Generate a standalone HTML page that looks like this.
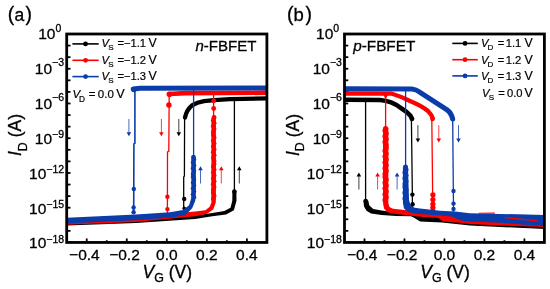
<!DOCTYPE html>
<html><head><meta charset="utf-8"><title>FBFET transfer curves</title>
<style>html,body{margin:0;padding:0;background:#fff;}svg{display:block;}text{stroke:#000;stroke-width:0.3px;}text.lg{stroke-width:0.2px;}</style>
</head><body>
<svg width="550" height="289" viewBox="0 0 550 289" font-family="'Liberation Sans', Arial, sans-serif">
<rect width="550" height="289" fill="#fff"/>
<line x1="66.70" y1="45.58" x2="70.50" y2="45.58" stroke="#000" stroke-width="1.8"/>
<line x1="66.70" y1="57.16" x2="70.50" y2="57.16" stroke="#000" stroke-width="1.8"/>
<line x1="66.70" y1="68.74" x2="70.50" y2="68.74" stroke="#000" stroke-width="1.8"/>
<line x1="66.70" y1="80.32" x2="70.50" y2="80.32" stroke="#000" stroke-width="1.8"/>
<line x1="66.70" y1="91.90" x2="70.50" y2="91.90" stroke="#000" stroke-width="1.8"/>
<line x1="66.70" y1="103.48" x2="70.50" y2="103.48" stroke="#000" stroke-width="1.8"/>
<line x1="66.70" y1="115.06" x2="70.50" y2="115.06" stroke="#000" stroke-width="1.8"/>
<line x1="66.70" y1="126.64" x2="70.50" y2="126.64" stroke="#000" stroke-width="1.8"/>
<line x1="66.70" y1="138.22" x2="70.50" y2="138.22" stroke="#000" stroke-width="1.8"/>
<line x1="66.70" y1="149.80" x2="70.50" y2="149.80" stroke="#000" stroke-width="1.8"/>
<line x1="66.70" y1="161.38" x2="70.50" y2="161.38" stroke="#000" stroke-width="1.8"/>
<line x1="66.70" y1="172.96" x2="70.50" y2="172.96" stroke="#000" stroke-width="1.8"/>
<line x1="66.70" y1="184.54" x2="70.50" y2="184.54" stroke="#000" stroke-width="1.8"/>
<line x1="66.70" y1="196.12" x2="70.50" y2="196.12" stroke="#000" stroke-width="1.8"/>
<line x1="66.70" y1="207.70" x2="70.50" y2="207.70" stroke="#000" stroke-width="1.8"/>
<line x1="66.70" y1="219.28" x2="70.50" y2="219.28" stroke="#000" stroke-width="1.8"/>
<line x1="66.70" y1="230.86" x2="70.50" y2="230.86" stroke="#000" stroke-width="1.8"/>
<line x1="86.72" y1="242.44" x2="86.72" y2="238.44" stroke="#000" stroke-width="1.8"/>
<line x1="106.74" y1="242.44" x2="106.74" y2="240.24" stroke="#000" stroke-width="1.8"/>
<line x1="126.76" y1="242.44" x2="126.76" y2="238.44" stroke="#000" stroke-width="1.8"/>
<line x1="146.78" y1="242.44" x2="146.78" y2="240.24" stroke="#000" stroke-width="1.8"/>
<line x1="166.80" y1="242.44" x2="166.80" y2="238.44" stroke="#000" stroke-width="1.8"/>
<line x1="186.82" y1="242.44" x2="186.82" y2="240.24" stroke="#000" stroke-width="1.8"/>
<line x1="206.84" y1="242.44" x2="206.84" y2="238.44" stroke="#000" stroke-width="1.8"/>
<line x1="226.86" y1="242.44" x2="226.86" y2="240.24" stroke="#000" stroke-width="1.8"/>
<line x1="246.88" y1="242.44" x2="246.88" y2="238.44" stroke="#000" stroke-width="1.8"/>
<clipPath id="ca"><rect x="66.7" y="34" width="200.2" height="208.5"/></clipPath><g clip-path="url(#ca)">
<polygon points="67.00,221.20 136.00,219.20 195.00,215.50 212.30,212.90 224.40,211.10 230.50,207.70 232.30,200.80 232.40,191.50 236.40,191.50 236.50,200.80 233.90,210.30 226.10,214.60 212.30,216.30 195.00,218.90 136.00,222.90 67.00,225.60" fill="#000000"/>
<polyline points="234.40,191.50 234.40,99.50" fill="none" stroke="#000000" stroke-width="1.3"/>
<path d="M185,117.5 Q186.5,110 192,105.3 Q197,102.4 204,101.2 L214,100.1 L230,99.2 L268,98.4" fill="none" stroke="#000000" stroke-width="4.3" stroke-linecap="round" stroke-linejoin="round"/>
<polyline points="184.60,117.30 184.40,176.00 183.70,177.00 183.70,218.00" fill="none" stroke="#000000" stroke-width="1.3"/>
<circle cx="184.20" cy="199.00" r="2.2" fill="#000000"/>
<circle cx="184.20" cy="208.30" r="1.8" fill="#000000"/>
<circle cx="234.40" cy="191.50" r="2.3" fill="#000000"/>
<polygon points="67.00,219.50 136.00,216.50 195.00,211.60 205.40,210.30 209.70,206.80 211.40,202.50 211.60,118.00 215.80,118.00 215.80,202.50 213.20,209.40 207.10,213.70 195.00,216.30 136.00,221.90 67.00,224.80" fill="#ff0000"/>
<polyline points="213.60,117.00 213.60,94.00" fill="none" stroke="#ff0000" stroke-width="1.3"/>
<circle cx="213.70" cy="100.80" r="2.4" fill="#ff0000"/>
<circle cx="213.70" cy="108.50" r="2.4" fill="#ff0000"/>
<circle cx="214.05" cy="117.50" r="2.45" fill="#ff0000"/>
<circle cx="213.35" cy="120.40" r="2.45" fill="#ff0000"/>
<circle cx="214.05" cy="123.30" r="2.45" fill="#ff0000"/>
<circle cx="213.35" cy="126.20" r="2.45" fill="#ff0000"/>
<circle cx="214.05" cy="129.10" r="2.45" fill="#ff0000"/>
<circle cx="213.35" cy="132.00" r="2.45" fill="#ff0000"/>
<circle cx="213.35" cy="134.90" r="2.45" fill="#ff0000"/>
<circle cx="214.05" cy="137.80" r="2.45" fill="#ff0000"/>
<circle cx="213.35" cy="140.70" r="2.45" fill="#ff0000"/>
<circle cx="214.05" cy="143.60" r="2.45" fill="#ff0000"/>
<circle cx="213.35" cy="146.50" r="2.45" fill="#ff0000"/>
<circle cx="214.05" cy="149.40" r="2.45" fill="#ff0000"/>
<circle cx="213.35" cy="152.30" r="2.45" fill="#ff0000"/>
<circle cx="214.05" cy="155.20" r="2.45" fill="#ff0000"/>
<circle cx="213.35" cy="158.10" r="2.45" fill="#ff0000"/>
<circle cx="214.05" cy="161.00" r="2.45" fill="#ff0000"/>
<circle cx="214.05" cy="163.90" r="2.45" fill="#ff0000"/>
<circle cx="213.35" cy="166.80" r="2.45" fill="#ff0000"/>
<circle cx="214.05" cy="169.70" r="2.45" fill="#ff0000"/>
<circle cx="213.35" cy="172.60" r="2.45" fill="#ff0000"/>
<circle cx="214.05" cy="175.50" r="2.45" fill="#ff0000"/>
<circle cx="213.35" cy="178.40" r="2.45" fill="#ff0000"/>
<circle cx="214.05" cy="181.30" r="2.45" fill="#ff0000"/>
<circle cx="213.35" cy="184.20" r="2.45" fill="#ff0000"/>
<circle cx="214.05" cy="187.10" r="2.45" fill="#ff0000"/>
<circle cx="213.35" cy="190.00" r="2.45" fill="#ff0000"/>
<circle cx="213.35" cy="192.90" r="2.45" fill="#ff0000"/>
<circle cx="214.05" cy="195.80" r="2.45" fill="#ff0000"/>
<circle cx="213.35" cy="198.70" r="2.45" fill="#ff0000"/>
<polyline points="169.20,94.00 185.00,93.20 268.00,92.70" fill="none" stroke="#ff0000" stroke-width="4.7" stroke-linecap="round" stroke-linejoin="round"/>
<circle cx="169.40" cy="94.30" r="2.8" fill="#ff0000"/>
<polyline points="169.20,94.30 168.80,151.30 167.50,152.00 167.40,216.00" fill="none" stroke="#ff0000" stroke-width="1.3"/>
<circle cx="168.90" cy="105.00" r="2.7" fill="#ff0000"/>
<circle cx="167.40" cy="196.70" r="2.2" fill="#ff0000"/>
<circle cx="167.40" cy="209.10" r="2.2" fill="#ff0000"/>
<polygon points="67.00,217.80 136.00,214.60 170.00,212.20 182.90,209.90 189.10,205.20 191.40,197.40 191.60,185.00 191.40,156.50 195.60,156.50 196.00,185.00 195.30,200.60 192.20,208.30 185.20,215.30 170.00,217.70 136.00,220.20 67.00,223.50" fill="#0a3caa"/>
<circle cx="193.50" cy="157.00" r="2.3" fill="#0a3caa"/>
<circle cx="193.85" cy="159.50" r="2.4" fill="#0a3caa"/>
<circle cx="193.15" cy="162.40" r="2.4" fill="#0a3caa"/>
<circle cx="193.85" cy="165.30" r="2.4" fill="#0a3caa"/>
<circle cx="193.15" cy="168.20" r="2.4" fill="#0a3caa"/>
<circle cx="193.85" cy="171.10" r="2.4" fill="#0a3caa"/>
<circle cx="193.15" cy="174.00" r="2.4" fill="#0a3caa"/>
<circle cx="193.15" cy="176.90" r="2.4" fill="#0a3caa"/>
<circle cx="193.85" cy="179.80" r="2.4" fill="#0a3caa"/>
<circle cx="193.15" cy="182.70" r="2.4" fill="#0a3caa"/>
<circle cx="193.85" cy="185.60" r="2.4" fill="#0a3caa"/>
<circle cx="193.15" cy="188.50" r="2.4" fill="#0a3caa"/>
<circle cx="193.85" cy="191.40" r="2.4" fill="#0a3caa"/>
<circle cx="193.15" cy="194.30" r="2.4" fill="#0a3caa"/>
<circle cx="193.85" cy="197.20" r="2.4" fill="#0a3caa"/>
<polyline points="193.60,156.50 193.60,88.10" fill="none" stroke="#0a3caa" stroke-width="1.3"/>
<polyline points="133.20,89.00 140.00,88.30 268.00,88.10" fill="none" stroke="#0a3caa" stroke-width="5.0" stroke-linecap="round" stroke-linejoin="round"/>
<polyline points="134.90,89.00 134.90,143.30 133.90,143.90 133.70,214.00" fill="none" stroke="#0a3caa" stroke-width="1.6"/>
<circle cx="133.90" cy="89.60" r="2.7" fill="#0a3caa"/>
<circle cx="133.80" cy="189.00" r="2.2" fill="#0a3caa"/>
<circle cx="133.60" cy="207.50" r="2.2" fill="#0a3caa"/>
<circle cx="133.60" cy="212.20" r="2.2" fill="#0a3caa"/>
<line x1="128.90" y1="119.00" x2="128.90" y2="132.70" stroke="#0a3caa" stroke-width="1" opacity="0.75"/>
<polygon points="126.60,132.20 131.20,132.20 128.90,136.20" fill="#0a3caa"/>
<line x1="161.40" y1="119.00" x2="161.40" y2="132.70" stroke="#ff0000" stroke-width="1" opacity="0.75"/>
<polygon points="159.10,132.20 163.70,132.20 161.40,136.20" fill="#ff0000"/>
<line x1="178.80" y1="119.00" x2="178.80" y2="132.70" stroke="#000000" stroke-width="1" opacity="0.75"/>
<polygon points="176.50,132.20 181.10,132.20 178.80,136.20" fill="#000000"/>
<line x1="200.50" y1="183.50" x2="200.50" y2="169.80" stroke="#0a3caa" stroke-width="1" opacity="0.75"/>
<polygon points="198.20,170.30 202.80,170.30 200.50,166.30" fill="#0a3caa"/>
<line x1="221.30" y1="183.50" x2="221.30" y2="169.80" stroke="#ff0000" stroke-width="1" opacity="0.75"/>
<polygon points="219.00,170.30 223.60,170.30 221.30,166.30" fill="#ff0000"/>
<line x1="239.30" y1="183.50" x2="239.30" y2="169.80" stroke="#000000" stroke-width="1" opacity="0.75"/>
<polygon points="237.00,170.30 241.60,170.30 239.30,166.30" fill="#000000"/>
</g>
<line x1="344.50" y1="45.58" x2="348.30" y2="45.58" stroke="#000" stroke-width="1.8"/>
<line x1="344.50" y1="57.16" x2="348.30" y2="57.16" stroke="#000" stroke-width="1.8"/>
<line x1="344.50" y1="68.74" x2="348.30" y2="68.74" stroke="#000" stroke-width="1.8"/>
<line x1="344.50" y1="80.32" x2="348.30" y2="80.32" stroke="#000" stroke-width="1.8"/>
<line x1="344.50" y1="91.90" x2="348.30" y2="91.90" stroke="#000" stroke-width="1.8"/>
<line x1="344.50" y1="103.48" x2="348.30" y2="103.48" stroke="#000" stroke-width="1.8"/>
<line x1="344.50" y1="115.06" x2="348.30" y2="115.06" stroke="#000" stroke-width="1.8"/>
<line x1="344.50" y1="126.64" x2="348.30" y2="126.64" stroke="#000" stroke-width="1.8"/>
<line x1="344.50" y1="138.22" x2="348.30" y2="138.22" stroke="#000" stroke-width="1.8"/>
<line x1="344.50" y1="149.80" x2="348.30" y2="149.80" stroke="#000" stroke-width="1.8"/>
<line x1="344.50" y1="161.38" x2="348.30" y2="161.38" stroke="#000" stroke-width="1.8"/>
<line x1="344.50" y1="172.96" x2="348.30" y2="172.96" stroke="#000" stroke-width="1.8"/>
<line x1="344.50" y1="184.54" x2="348.30" y2="184.54" stroke="#000" stroke-width="1.8"/>
<line x1="344.50" y1="196.12" x2="348.30" y2="196.12" stroke="#000" stroke-width="1.8"/>
<line x1="344.50" y1="207.70" x2="348.30" y2="207.70" stroke="#000" stroke-width="1.8"/>
<line x1="344.50" y1="219.28" x2="348.30" y2="219.28" stroke="#000" stroke-width="1.8"/>
<line x1="344.50" y1="230.86" x2="348.30" y2="230.86" stroke="#000" stroke-width="1.8"/>
<line x1="364.49" y1="242.44" x2="364.49" y2="238.44" stroke="#000" stroke-width="1.8"/>
<line x1="384.48" y1="242.44" x2="384.48" y2="240.24" stroke="#000" stroke-width="1.8"/>
<line x1="404.47" y1="242.44" x2="404.47" y2="238.44" stroke="#000" stroke-width="1.8"/>
<line x1="424.46" y1="242.44" x2="424.46" y2="240.24" stroke="#000" stroke-width="1.8"/>
<line x1="444.45" y1="242.44" x2="444.45" y2="238.44" stroke="#000" stroke-width="1.8"/>
<line x1="464.44" y1="242.44" x2="464.44" y2="240.24" stroke="#000" stroke-width="1.8"/>
<line x1="484.43" y1="242.44" x2="484.43" y2="238.44" stroke="#000" stroke-width="1.8"/>
<line x1="504.42" y1="242.44" x2="504.42" y2="240.24" stroke="#000" stroke-width="1.8"/>
<line x1="524.41" y1="242.44" x2="524.41" y2="238.44" stroke="#000" stroke-width="1.8"/>
<clipPath id="cb"><rect x="344.5" y="34" width="199.9" height="208.5"/></clipPath><g clip-path="url(#cb)">
<path d="M345.5,99.7 L380,99.9 Q392,100.9 400.5,107.7 Q407,111.6 410.5,115.8 L412,119" fill="none" stroke="#000000" stroke-width="4.5" stroke-linecap="round" stroke-linejoin="round"/>
<polyline points="411.40,119.00 412.30,190.00 412.50,214.00" fill="none" stroke="#000000" stroke-width="1.3"/>
<circle cx="412.00" cy="118.60" r="2.2" fill="#000000"/>
<circle cx="412.40" cy="194.60" r="2.2" fill="#000000"/>
<circle cx="412.60" cy="204.20" r="2.2" fill="#000000"/>
<polyline points="365.60,101.00 365.60,200.60" fill="none" stroke="#000000" stroke-width="1.3"/>
<polygon points="363.40,200.60 364.00,206.40 366.50,210.80 371.00,213.60 381.50,215.00 396.00,216.00 411.00,216.30 414.50,217.90 420.00,221.60 442.00,222.60 470.00,225.40 500.00,227.00 545.00,229.00 545.00,222.50 470.00,219.50 442.00,217.50 424.00,216.50 414.00,215.00 396.00,212.40 381.50,210.50 373.20,209.00 369.40,205.60 368.20,200.60" fill="#000000"/>
<circle cx="365.70" cy="201.00" r="2.3" fill="#000000"/>
<polygon points="383.00,128.00 383.00,203.00 384.00,208.50 387.00,212.00 392.00,213.50 405.00,215.00 415.00,216.30 438.00,217.80 443.00,221.50 460.00,222.80 470.00,224.00 500.00,225.40 545.00,227.00 545.00,219.50 455.00,215.00 433.00,212.60 405.00,210.00 393.00,208.80 389.50,207.00 388.30,203.00 388.30,128.00" fill="#ff0000"/>
<circle cx="385.60" cy="128.50" r="2.6" fill="#ff0000"/>
<circle cx="385.20" cy="130.50" r="2.75" fill="#ff0000"/>
<circle cx="386.00" cy="133.40" r="2.75" fill="#ff0000"/>
<circle cx="385.20" cy="136.30" r="2.75" fill="#ff0000"/>
<circle cx="386.00" cy="139.20" r="2.75" fill="#ff0000"/>
<circle cx="385.20" cy="142.10" r="2.75" fill="#ff0000"/>
<circle cx="386.00" cy="145.00" r="2.75" fill="#ff0000"/>
<circle cx="386.00" cy="147.90" r="2.75" fill="#ff0000"/>
<circle cx="385.20" cy="150.80" r="2.75" fill="#ff0000"/>
<circle cx="386.00" cy="153.70" r="2.75" fill="#ff0000"/>
<circle cx="385.20" cy="156.60" r="2.75" fill="#ff0000"/>
<circle cx="386.00" cy="159.50" r="2.75" fill="#ff0000"/>
<circle cx="385.20" cy="162.40" r="2.75" fill="#ff0000"/>
<circle cx="386.00" cy="165.30" r="2.75" fill="#ff0000"/>
<circle cx="385.20" cy="168.20" r="2.75" fill="#ff0000"/>
<circle cx="386.00" cy="171.10" r="2.75" fill="#ff0000"/>
<circle cx="385.20" cy="174.00" r="2.75" fill="#ff0000"/>
<circle cx="385.20" cy="176.90" r="2.75" fill="#ff0000"/>
<circle cx="386.00" cy="179.80" r="2.75" fill="#ff0000"/>
<circle cx="385.20" cy="182.70" r="2.75" fill="#ff0000"/>
<circle cx="386.00" cy="185.60" r="2.75" fill="#ff0000"/>
<circle cx="385.20" cy="188.50" r="2.75" fill="#ff0000"/>
<circle cx="386.00" cy="191.40" r="2.75" fill="#ff0000"/>
<circle cx="385.20" cy="194.30" r="2.75" fill="#ff0000"/>
<circle cx="386.00" cy="197.20" r="2.75" fill="#ff0000"/>
<circle cx="385.20" cy="200.10" r="2.75" fill="#ff0000"/>
<polyline points="385.60,128.00 385.60,94.00" fill="none" stroke="#ff0000" stroke-width="1.3"/>
<path d="M345.5,93.5 L392,93.7 Q400,96 410,101 Q422,106 428,111 Q431.5,114.5 432.8,118.5" fill="none" stroke="#ff0000" stroke-width="4.3" stroke-linecap="round" stroke-linejoin="round"/>
<polygon points="383.3,95 387.9,95 385.6,99" fill="#ff0000"/>
<polyline points="431.80,118.50 432.60,190.00 432.90,214.00" fill="none" stroke="#ff0000" stroke-width="1.3"/>
<circle cx="432.40" cy="119.00" r="2.2" fill="#ff0000"/>
<circle cx="432.90" cy="194.80" r="2.6" fill="#ff0000"/>
<circle cx="432.90" cy="199.60" r="2.6" fill="#ff0000"/>
<circle cx="432.90" cy="204.00" r="2.6" fill="#ff0000"/>
<circle cx="432.90" cy="207.60" r="2.6" fill="#ff0000"/>
<circle cx="432.90" cy="210.80" r="2.6" fill="#ff0000"/>
<polygon points="402.90,167.50 402.90,203.00 404.00,208.50 407.50,211.50 414.00,213.50 440.00,215.50 452.00,216.50 458.00,219.50 465.00,221.30 500.00,222.80 545.00,226.20 545.00,215.00 470.00,213.20 455.00,211.60 440.00,210.70 420.00,208.60 414.50,207.80 410.50,205.00 409.00,200.00 408.00,167.50" fill="#0a3caa"/>
<circle cx="405.50" cy="167.00" r="2.5" fill="#0a3caa"/>
<circle cx="405.90" cy="169.50" r="2.6" fill="#0a3caa"/>
<circle cx="405.10" cy="172.40" r="2.6" fill="#0a3caa"/>
<circle cx="405.90" cy="175.30" r="2.6" fill="#0a3caa"/>
<circle cx="405.10" cy="178.20" r="2.6" fill="#0a3caa"/>
<circle cx="405.90" cy="181.10" r="2.6" fill="#0a3caa"/>
<circle cx="405.10" cy="184.00" r="2.6" fill="#0a3caa"/>
<circle cx="405.10" cy="186.90" r="2.6" fill="#0a3caa"/>
<circle cx="405.90" cy="189.80" r="2.6" fill="#0a3caa"/>
<circle cx="405.10" cy="192.70" r="2.6" fill="#0a3caa"/>
<circle cx="405.90" cy="195.60" r="2.6" fill="#0a3caa"/>
<circle cx="405.10" cy="198.50" r="2.6" fill="#0a3caa"/>
<circle cx="405.90" cy="201.40" r="2.6" fill="#0a3caa"/>
<polyline points="405.60,167.50 405.60,89.00" fill="none" stroke="#0a3caa" stroke-width="1.3"/>
<path d="M345.5,88.8 L412,89.0 Q416,89.3 420,92.3 L446.7,109.6 Q451.5,113 452.7,119" fill="none" stroke="#0a3caa" stroke-width="5.0" stroke-linecap="round" stroke-linejoin="round"/>
<polyline points="452.70,119.00 453.50,212.00" fill="none" stroke="#0a3caa" stroke-width="1.3"/>
<circle cx="452.70" cy="119.00" r="2.2" fill="#0a3caa"/>
<circle cx="453.50" cy="191.00" r="2.2" fill="#0a3caa"/>
<circle cx="453.50" cy="203.60" r="2.2" fill="#0a3caa"/>
<circle cx="453.50" cy="208.90" r="2.2" fill="#0a3caa"/>
<polyline points="505.00,217.60 537.80,220.90" fill="none" stroke="#ff0000" stroke-width="1.3"/>
<polygon points="478.50,212.70 494.80,212.60 494.80,213.70 478.50,213.80" fill="#ff0000"/>
<line x1="417.90" y1="125.10" x2="417.90" y2="139.00" stroke="#000000" stroke-width="1" opacity="0.75"/>
<polygon points="415.60,138.50 420.20,138.50 417.90,142.50" fill="#000000"/>
<line x1="438.80" y1="125.10" x2="438.80" y2="139.00" stroke="#ff0000" stroke-width="1" opacity="0.75"/>
<polygon points="436.50,138.50 441.10,138.50 438.80,142.50" fill="#ff0000"/>
<line x1="458.50" y1="125.10" x2="458.50" y2="139.00" stroke="#0a3caa" stroke-width="1" opacity="0.75"/>
<polygon points="456.20,138.50 460.80,138.50 458.50,142.50" fill="#0a3caa"/>
<line x1="358.90" y1="189.50" x2="358.90" y2="176.10" stroke="#000000" stroke-width="1" opacity="0.75"/>
<polygon points="356.60,176.60 361.20,176.60 358.90,172.60" fill="#000000"/>
<line x1="377.60" y1="189.50" x2="377.60" y2="176.10" stroke="#ff0000" stroke-width="1" opacity="0.75"/>
<polygon points="375.30,176.60 379.90,176.60 377.60,172.60" fill="#ff0000"/>
<line x1="397.10" y1="189.50" x2="397.10" y2="176.10" stroke="#0a3caa" stroke-width="1" opacity="0.75"/>
<polygon points="394.80,176.60 399.40,176.60 397.10,172.60" fill="#0a3caa"/>
</g>
<rect x="66.70" y="34.00" width="200.20" height="208.44" fill="none" stroke="#000" stroke-width="2.8"/>
<rect x="344.50" y="34.00" width="199.90" height="208.44" fill="none" stroke="#000" stroke-width="2.8"/>
<text transform="translate(61.30,39.20) scale(1,1.0)" text-anchor="end" font-size="15.5">10<tspan dy="-7.20" font-size="10.5">0</tspan></text>
<text transform="translate(64.10,73.90) scale(1,1.0)" text-anchor="end" font-size="15.5">10<tspan dy="-7.60" font-size="10.5">−3</tspan></text>
<text transform="translate(64.10,108.60) scale(1,1.0)" text-anchor="end" font-size="15.5">10<tspan dy="-7.40" font-size="10.5">−6</tspan></text>
<text transform="translate(64.10,143.70) scale(1,1.0)" text-anchor="end" font-size="15.5">10<tspan dy="-5.80" font-size="10.5">−9</tspan></text>
<text transform="translate(64.10,178.70) scale(1,1.0)" text-anchor="end" font-size="15.5">10<tspan dy="-5.80" font-size="10.5">−12</tspan></text>
<text transform="translate(64.10,213.70) scale(1,1.0)" text-anchor="end" font-size="15.5">10<tspan dy="-5.80" font-size="10.5">−15</tspan></text>
<text transform="translate(64.10,248.20) scale(1,1.0)" text-anchor="end" font-size="15.5">10<tspan dy="-5.40" font-size="10.5">−18</tspan></text>
<text transform="translate(84.42,259.6) scale(1,1.0)" text-anchor="middle" font-size="15.5">−0.4</text>
<text transform="translate(124.46,259.6) scale(1,1.0)" text-anchor="middle" font-size="15.5">−0.2</text>
<text transform="translate(166.80,259.6) scale(1,1.0)" text-anchor="middle" font-size="15.5">0.0</text>
<text transform="translate(206.84,259.6) scale(1,1.0)" text-anchor="middle" font-size="15.5">0.2</text>
<text transform="translate(246.88,259.6) scale(1,1.0)" text-anchor="middle" font-size="15.5">0.4</text>
<text x="142.60" y="277.6" font-size="17.5"><tspan font-style="italic">V</tspan><tspan font-size="12.4" dy="4.3">G</tspan><tspan dy="-4.3"> (V)</tspan></text>
<text transform="translate(21.00,156.0) rotate(-90)" font-size="17.5"><tspan font-style="italic">I</tspan><tspan font-size="12.4" dy="5.6">D</tspan><tspan dy="-5.6"> (A)</tspan></text>
<text x="7.70" y="20.6" font-size="19.4">(</text><text x="14.46" y="20.6" font-size="17.5">a</text><text x="25.58" y="20.6" font-size="19.4">)</text>
<text transform="translate(339.10,39.20) scale(1,1.0)" text-anchor="end" font-size="15.5">10<tspan dy="-7.20" font-size="10.5">0</tspan></text>
<text transform="translate(341.90,73.90) scale(1,1.0)" text-anchor="end" font-size="15.5">10<tspan dy="-7.60" font-size="10.5">−3</tspan></text>
<text transform="translate(341.90,108.60) scale(1,1.0)" text-anchor="end" font-size="15.5">10<tspan dy="-7.40" font-size="10.5">−6</tspan></text>
<text transform="translate(341.90,143.70) scale(1,1.0)" text-anchor="end" font-size="15.5">10<tspan dy="-5.80" font-size="10.5">−9</tspan></text>
<text transform="translate(341.90,178.70) scale(1,1.0)" text-anchor="end" font-size="15.5">10<tspan dy="-5.80" font-size="10.5">−12</tspan></text>
<text transform="translate(341.90,213.70) scale(1,1.0)" text-anchor="end" font-size="15.5">10<tspan dy="-5.80" font-size="10.5">−15</tspan></text>
<text transform="translate(341.90,248.20) scale(1,1.0)" text-anchor="end" font-size="15.5">10<tspan dy="-5.40" font-size="10.5">−18</tspan></text>
<text transform="translate(362.19,259.6) scale(1,1.0)" text-anchor="middle" font-size="15.5">−0.4</text>
<text transform="translate(402.17,259.6) scale(1,1.0)" text-anchor="middle" font-size="15.5">−0.2</text>
<text transform="translate(444.45,259.6) scale(1,1.0)" text-anchor="middle" font-size="15.5">0.0</text>
<text transform="translate(484.43,259.6) scale(1,1.0)" text-anchor="middle" font-size="15.5">0.2</text>
<text transform="translate(524.41,259.6) scale(1,1.0)" text-anchor="middle" font-size="15.5">0.4</text>
<text x="420.30" y="277.6" font-size="17.5"><tspan font-style="italic">V</tspan><tspan font-size="12.4" dy="4.3">G</tspan><tspan dy="-4.3"> (V)</tspan></text>
<text transform="translate(298.70,156.0) rotate(-90)" font-size="17.5"><tspan font-style="italic">I</tspan><tspan font-size="12.4" dy="5.6">D</tspan><tspan dy="-5.6"> (A)</tspan></text>
<text x="287.00" y="20.6" font-size="19.4">(</text><text x="293.50" y="20.6" font-size="18.5">b</text><text x="305.38" y="20.6" font-size="19.4">)</text>
<line x1="72.40" y1="43.90" x2="98.70" y2="43.90" stroke="#000000" stroke-width="1.6"/>
<circle cx="85.55" cy="43.90" r="2.4" fill="#000000"/>
<line x1="72.40" y1="60.30" x2="98.70" y2="60.30" stroke="#ff0000" stroke-width="1.6"/>
<circle cx="85.55" cy="60.30" r="2.4" fill="#ff0000"/>
<line x1="72.40" y1="76.60" x2="98.70" y2="76.60" stroke="#0a3caa" stroke-width="1.6"/>
<circle cx="85.55" cy="76.60" r="2.4" fill="#0a3caa"/>
<text class="lg" x="101.60" y="47.40" font-size="11.2" font-style="italic">V</text>
<text class="lg" x="108.20" y="50.10" font-size="8.06">S</text>
<text class="lg" x="117.60" y="47.40" font-size="11.2">=</text>
<text class="lg" x="123.90" y="47.40" font-size="11.2">−1.1</text>
<text class="lg" x="148.50" y="47.40" font-size="12.32">V</text>
<text class="lg" x="101.60" y="63.55" font-size="11.2" font-style="italic">V</text>
<text class="lg" x="108.20" y="66.75" font-size="8.06">S</text>
<text class="lg" x="117.60" y="63.55" font-size="11.2">=</text>
<text class="lg" x="123.90" y="63.55" font-size="11.2">−1.2</text>
<text class="lg" x="148.50" y="63.55" font-size="12.32">V</text>
<text class="lg" x="101.60" y="79.70" font-size="11.2" font-style="italic">V</text>
<text class="lg" x="108.20" y="82.90" font-size="8.06">S</text>
<text class="lg" x="117.60" y="79.70" font-size="11.2">=</text>
<text class="lg" x="123.90" y="79.70" font-size="11.2">−1.3</text>
<text class="lg" x="148.50" y="79.70" font-size="12.32">V</text>
<text class="lg" x="72.40" y="98.10" font-size="11.5" font-style="italic">V</text>
<text class="lg" x="79.00" y="101.50" font-size="8.28">D</text>
<text class="lg" x="88.80" y="98.10" font-size="11.5">=</text>
<text class="lg" x="97.80" y="98.10" font-size="11.5">0.0</text>
<text class="lg" x="116.30" y="98.10" font-size="12.65">V</text>
<text x="195.5" y="50.9" font-size="15"><tspan font-style="italic">n</tspan>-FBFET</text>
<line x1="452.30" y1="43.40" x2="477.80" y2="43.40" stroke="#000000" stroke-width="1.6"/>
<circle cx="465.05" cy="43.40" r="2.4" fill="#000000"/>
<line x1="452.30" y1="59.70" x2="477.80" y2="59.70" stroke="#ff0000" stroke-width="1.6"/>
<circle cx="465.05" cy="59.70" r="2.4" fill="#ff0000"/>
<line x1="452.30" y1="75.90" x2="477.80" y2="75.90" stroke="#0a3caa" stroke-width="1.6"/>
<circle cx="465.05" cy="75.90" r="2.4" fill="#0a3caa"/>
<text class="lg" x="481.00" y="47.40" font-size="11.2" font-style="italic">V</text>
<text class="lg" x="487.60" y="50.40" font-size="8.06">D</text>
<text class="lg" x="497.80" y="47.40" font-size="11.2">=</text>
<text class="lg" x="505.70" y="47.40" font-size="11.2">1.1</text>
<text class="lg" x="524.60" y="47.40" font-size="12.32">V</text>
<text class="lg" x="481.00" y="63.55" font-size="11.2" font-style="italic">V</text>
<text class="lg" x="487.60" y="66.55" font-size="8.06">D</text>
<text class="lg" x="497.80" y="63.55" font-size="11.2">=</text>
<text class="lg" x="505.70" y="63.55" font-size="11.2">1.2</text>
<text class="lg" x="524.60" y="63.55" font-size="12.32">V</text>
<text class="lg" x="481.00" y="79.70" font-size="11.2" font-style="italic">V</text>
<text class="lg" x="487.60" y="82.70" font-size="8.06">D</text>
<text class="lg" x="497.80" y="79.70" font-size="11.2">=</text>
<text class="lg" x="505.70" y="79.70" font-size="11.2">1.3</text>
<text class="lg" x="524.60" y="79.70" font-size="12.32">V</text>
<text class="lg" x="482.10" y="97.10" font-size="11.2" font-style="italic">V</text>
<text class="lg" x="488.70" y="99.90" font-size="8.06">S</text>
<text class="lg" x="498.30" y="97.10" font-size="11.2">=</text>
<text class="lg" x="507.00" y="97.10" font-size="11.2">0.0</text>
<text class="lg" x="524.40" y="97.10" font-size="12.32">V</text>
<text x="353.2" y="50.5" font-size="15.3"><tspan font-style="italic">p</tspan>-FBFET</text>
</svg>
</body></html>
